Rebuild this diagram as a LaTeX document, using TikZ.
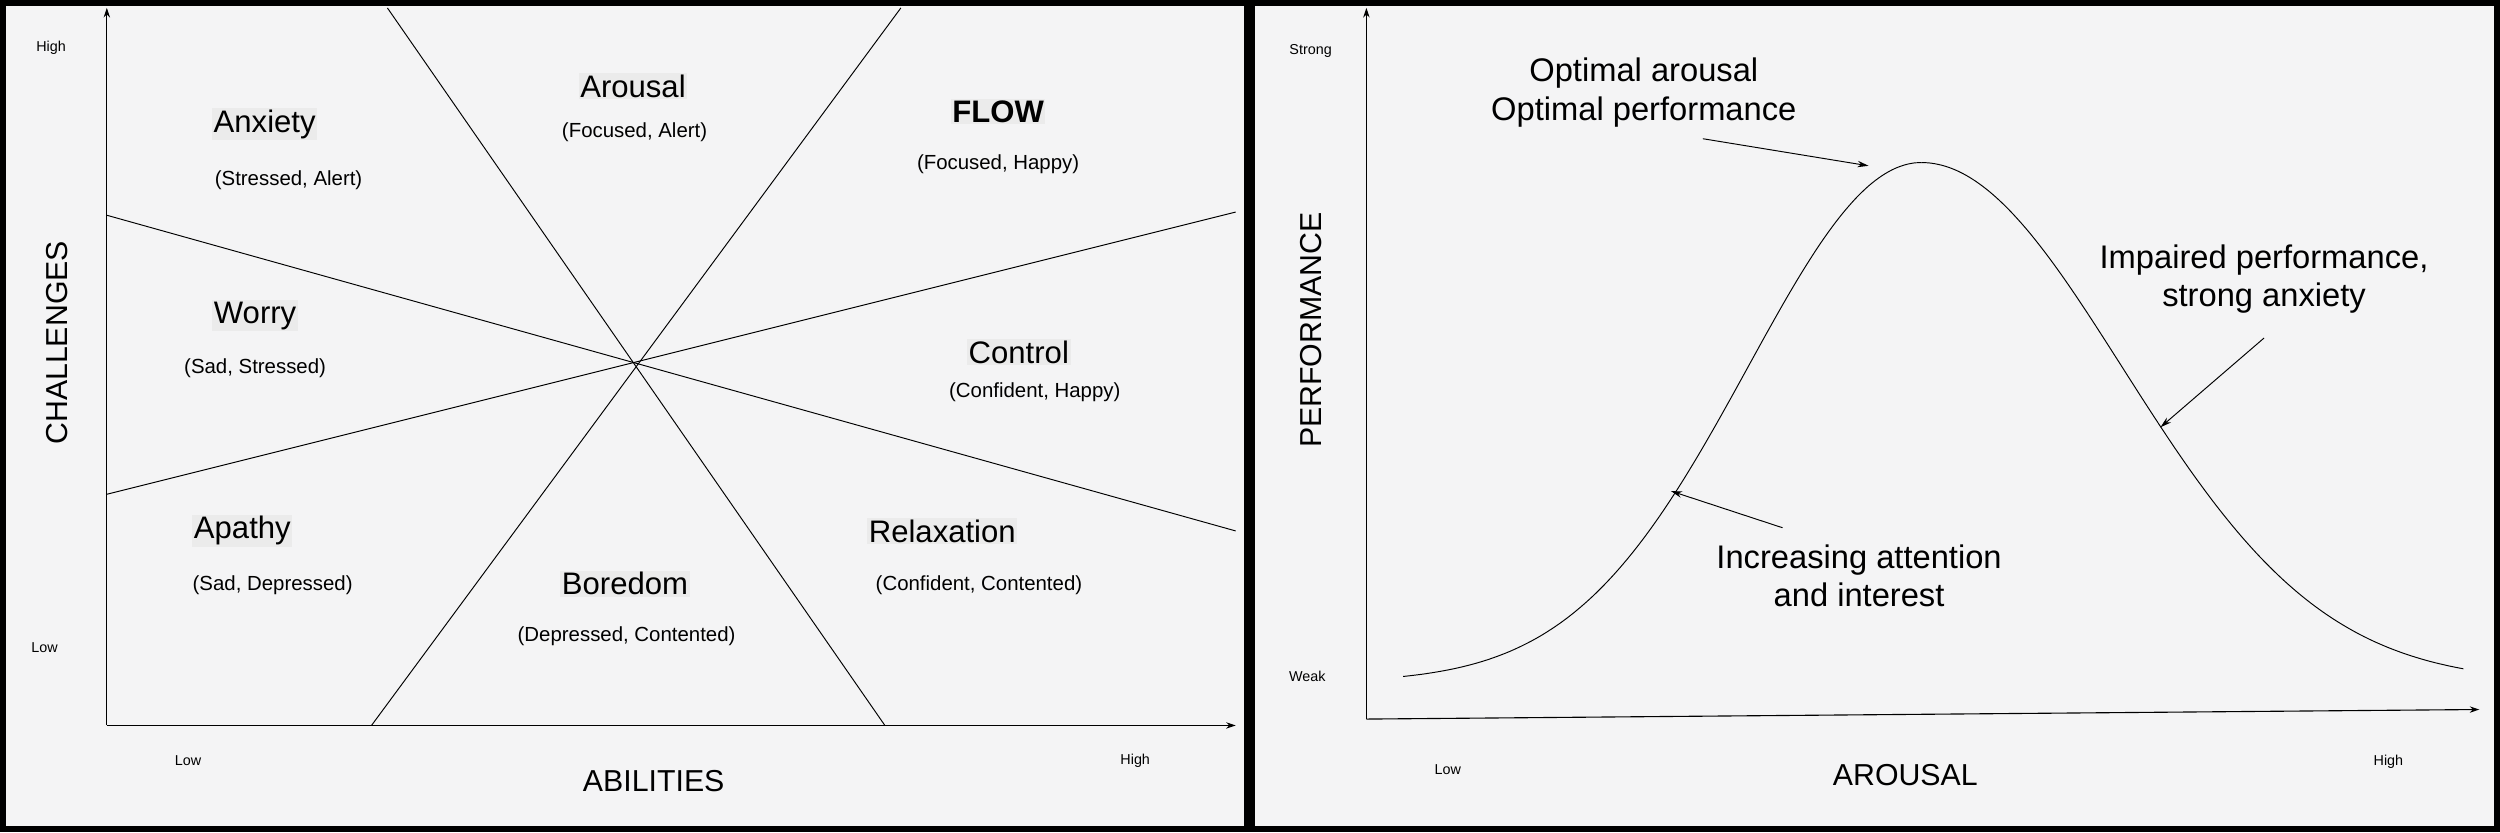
\documentclass[tikz,border=0pt]{standalone}
\usepackage{fontspec}
\setmainfont{Liberation Sans}
\usetikzlibrary{arrows.meta}
\definecolor{bg}{HTML}{F4F4F5}
\tikzset{
  ttl/.style={font=\fontsize{19.5}{21}\selectfont, fill=black!8, inner sep=1pt},
  sub/.style={font=\fontsize{12.8}{14}\selectfont, inner sep=1pt},
  tick/.style={font=\fontsize{9}{10}\selectfont},
  axlab/.style={font=\fontsize{19}{21}\selectfont},
  big/.style={font=\fontsize{20.5}{24}\selectfont, align=center},
  ax/.style={line width=0.7pt, -{Stealth[length=6pt,width=4pt]}},
  ln/.style={line width=0.6pt},
  ar/.style={line width=0.6pt, -{Stealth[length=7pt,width=4pt]}}
}
\begin{document}
\begin{tikzpicture}[x=1pt,y=-1pt]
\useasboundingbox (0,0) rectangle (1568,522);
\fill[black] (0,0) rectangle (1568,522);
\fill[bg] (4,4) rectangle (780,518);
\fill[bg] (787,4) rectangle (1564,518);
% left panel
\coordinate (o1) at (67,455);
\coordinate (yt1) at (67,5);
\coordinate (xt1) at (775,455);
\draw[ax] (o1) -- (yt1);
\draw[ax] (o1) -- (xt1);
\coordinate (a1) at (243,5); \coordinate (a2) at (555,455);
\coordinate (b1) at (565,5); \coordinate (b2) at (233,455);
\coordinate (c1) at (67,135); \coordinate (c2) at (775,333);
\coordinate (d1) at (67,310); \coordinate (d2) at (775,133);
\draw[ln] (a1)--(a2); \draw[ln] (b1)--(b2);
\draw[ln] (c1)--(c2); \draw[ln] (d1)--(d2);
\node[tick] (h1) at (32,30) {High};
\node[tick] (l1) at (28,406) {Low};
\node[tick] (l2) at (118,477) {Low};
\node[tick] (h2) at (712,477) {High};
\node[axlab,rotate=90] (ch) at (36,215) {CHALLENGES};
\node[axlab] (ab) at (410,490) {ABILITIES};
\node[ttl] (t1) at (166,78) {Anxiety};
\node[sub] (s1) at (181,113) {(Stressed, Alert)};
\node[ttl] (t2) at (397,54) {Arousal};
\node[sub] (s2) at (398,83) {(Focused, Alert)};
\node[ttl,font=\fontsize{19.5}{21}\selectfont\bfseries] (t3) at (626,70) {FLOW};
\node[sub] (s3) at (626,103) {(Focused, Happy)};
\node[ttl] (t4) at (160,198) {Worry};
\node[sub] (s4) at (160,231) {(Sad, Stressed)};
\node[ttl] (t5) at (639,221) {Control};
\node[sub] (s5) at (649,246) {(Confident, Happy)};
\node[ttl] (t6) at (152,333) {Apathy};
\node[sub] (s6) at (171,367) {(Sad, Depressed)};
\node[ttl] (t7) at (392,366) {Boredom};
\node[sub] (s7) at (393,399) {(Depressed, Contented)};
\node[ttl] (t8) at (591,333) {Relaxation};
\node[sub] (s8) at (614,367) {(Confident, Contented)};
% right panel
\coordinate (o2) at (857,451);
\coordinate (yt2) at (857,5);
\coordinate (xt2) at (1555,445);
\draw[ax] (o2) -- (yt2);
\draw[ax] (o2) -- (xt2);
\node[tick] (st) at (822,32) {Strong};
\node[tick] (wk) at (820,424) {Weak};
\node[tick] (l3) at (908,483) {Low};
\node[tick] (h3) at (1498,478) {High};
\node[axlab,rotate=90] (pf) at (822,207) {PERFORMANCE};
\node[axlab] (ar2) at (1195,486) {AROUSAL};
\draw[ln,domain=880:1205,samples=80,smooth] plot (\x,{428-326*exp(-((\x-1205)/108.7)^2/2)});
\draw[ln,domain=1205:1545,samples=80,smooth] plot (\x,{428-326*exp(-((\x-1205)/126)^2/2)});
\node[big] (opt) at (1031,58) {Optimal arousal\\Optimal performance};
\node[big] (imp) at (1420,175) {Impaired performance,\\strong anxiety};
\node[big] (inc) at (1166,361) {Increasing attention\\and interest};
\coordinate (p1) at (1172,104);
\coordinate (p2) at (1355,268);
\coordinate (p3) at (1048,308);
\coordinate (q1) at (1068,87);
\coordinate (q2) at (1420,212);
\coordinate (q3) at (1118,331);
\draw[ar] (q1) -- (p1);
\draw[ar] (q2) -- (p2);
\draw[ar] (q3) -- (p3);
\end{tikzpicture}
\end{document}
